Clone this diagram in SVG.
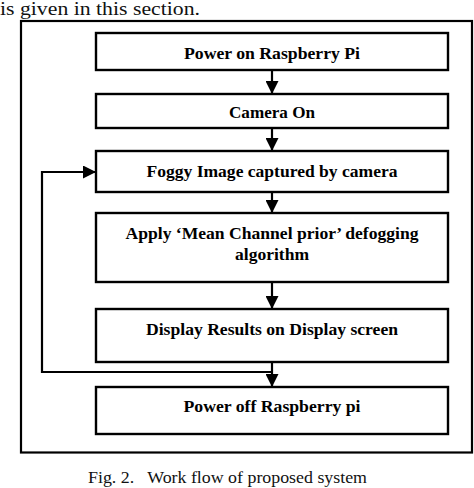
<svg xmlns="http://www.w3.org/2000/svg" width="474" height="488" viewBox="0 0 474 488">
  <style>
    .box { fill: #fff; stroke: #000; stroke-width: 2.4; }
    .frame { fill: none; stroke: #000; stroke-width: 2.2; }
    .lbl { font-family: "Liberation Serif", "Times New Roman", serif; font-weight: bold; font-size: 16px; text-anchor: middle; fill: #000; }
    .body { font-family: "Liberation Serif", "Times New Roman", serif; fill: #111; }
    .conn { fill: none; stroke: #000; stroke-width: 2.2; }
  </style>
  <defs>
    <marker id="arrow" viewBox="0 0 13 13" refX="13" refY="6.5" markerWidth="13" markerHeight="13" markerUnits="userSpaceOnUse" orient="auto">
      <path d="M0,0 L13,6.5 L0,13 Z" fill="#000"/>
    </marker>
  </defs>
  <rect width="474" height="488" fill="#fff"/>
  <text class="body" x="0" y="15" font-size="19" textLength="200" lengthAdjust="spacingAndGlyphs">is given in this section.</text>
  <rect class="frame" x="21" y="21" width="451" height="431.5"/>

  <g id="n1">
    <rect class="box" x="96" y="33" width="352" height="37"/>
    <text class="lbl" x="272" y="59" textLength="176" lengthAdjust="spacingAndGlyphs">Power on Raspberry Pi</text>
  </g>
  <g id="n2">
    <rect class="box" x="96" y="94" width="352" height="34"/>
    <text class="lbl" x="272" y="118" textLength="86" lengthAdjust="spacingAndGlyphs">Camera On</text>
  </g>
  <g id="n3">
    <rect class="box" x="96" y="151" width="352" height="41"/>
    <text class="lbl" x="272" y="177" textLength="251" lengthAdjust="spacingAndGlyphs">Foggy Image captured by camera</text>
  </g>
  <g id="n4">
    <rect class="box" x="96" y="213" width="352" height="69"/>
    <text class="lbl" x="272" y="239" textLength="293" lengthAdjust="spacingAndGlyphs">Apply ‘Mean Channel prior’ defogging</text>
    <text class="lbl" x="272" y="260" textLength="74" lengthAdjust="spacingAndGlyphs">algorithm</text>
  </g>
  <g id="n5">
    <rect class="box" x="96" y="309" width="352" height="53"/>
    <text class="lbl" x="272" y="335" textLength="252" lengthAdjust="spacingAndGlyphs">Display Results on Display screen</text>
  </g>
  <g id="n6">
    <rect class="box" x="96" y="387" width="352" height="47"/>
    <text class="lbl" x="272" y="412" textLength="177" lengthAdjust="spacingAndGlyphs">Power off Raspberry pi</text>
  </g>

  <g id="connectors">
    <line class="conn" x1="272" y1="70" x2="272" y2="94" marker-end="url(#arrow)"/>
    <line class="conn" x1="272" y1="128" x2="272" y2="151" marker-end="url(#arrow)"/>
    <line class="conn" x1="272" y1="192" x2="272" y2="213" marker-end="url(#arrow)"/>
    <line class="conn" x1="272" y1="282" x2="272" y2="309" marker-end="url(#arrow)"/>
    <line class="conn" x1="272" y1="362" x2="272" y2="387" marker-end="url(#arrow)"/>
    <path class="conn" d="M272,372 L42,372 L42,172 L96,172" marker-end="url(#arrow)"/>
  </g>

  <text class="body" x="88" y="483" font-size="16" textLength="279" lengthAdjust="spacingAndGlyphs" xml:space="preserve">Fig. 2.   Work flow of proposed system</text>
</svg>
